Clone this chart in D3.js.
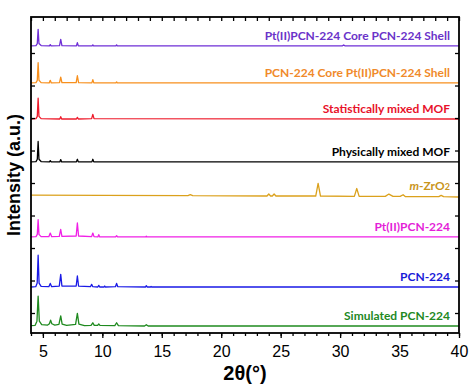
<!DOCTYPE html>
<html>
<head>
<meta charset="utf-8">
<script src="https://cdn.jsdelivr.net/npm/d3@7/dist/d3.min.js"></script>
<style>
  body { margin: 0; background: #fff; }
  svg { display: block; }
</style>
</head>
<body>
<div id="chart"></div>
<script>
// series names, bottom to top
const names = ['Simulated PCN-224', 'PCN-224', 'Pt(II)PCN-224', 'm-ZrO2',
  'Physically mixed MOF', 'Statistically mixed MOF',
  'PCN-224 Core Pt(II)PCN-224 Shell', 'Pt(II)PCN-224 Core PCN-224 Shell'];

// vertical offset of each trace (a.u.)
const offsets = [-0.4, 0.8, 2.34, 3.6, 4.65, 5.97, 7.08, 8.22];

const lineColors = ['#1f8a1f', '#1a1ae6', '#f020e6', '#dba11c', '#000000', '#ee1c2c', '#f7901e', '#6f2fd6'];
const textColors = ['#23891f', '#1a1ad8', '#e41ed8', '#c9951c', '#000000', '#e8112a', '#f08a2a', '#6a33c9'];

// [2theta, intensity]
const simulated = [[4, 0.01], [4.35, 0.02], [4.5, 0.15], [4.6, 0.92], [4.7, 0.15], [4.9, 0.04], [5.4, 0.03],
  [5.55, 0.07], [5.65, 0.18], [5.75, 0.07], [6.0, 0.03], [6.35, 0.05], [6.5, 0.31], [6.62, 0.06], [7.0, 0.02],
  [7.75, 0.05], [7.9, 0.39], [8.03, 0.06], [8.5, 0.01], [9.05, 0.02], [9.2, 0.1], [9.32, 0.02], [9.6, 0.02],
  [9.7, 0.06], [9.8, 0.02], [11.05, 0.01], [11.2, 0.1], [11.35, 0.01], [13.55, 0], [13.7, 0.04], [13.85, 0], [40, 0]];
const pcn = [[4, 0], [4.4, 0.01], [4.52, 0.12], [4.6, 0.98], [4.68, 0.12], [4.85, 0.02], [5.5, 0.01],
  [5.62, 0.11], [5.74, 0.01], [6.38, 0.03], [6.5, 0.39], [6.6, 0.03], [7.8, 0.03], [7.9, 0.34], [8.0, 0.03],
  [9.0, 0.01], [9.1, 0.08], [9.2, 0.01], [9.62, 0], [9.7, 0.05], [9.78, 0], [10.15, 0], [10.2, 0.03], [10.25, 0],
  [11.1, 0.01], [11.2, 0.11], [11.3, 0.01], [13.62, 0], [13.7, 0.04], [13.78, 0], [14.05, 0], [14.1, 0.02], [14.15, 0], [40, 0]];
const ptPcn = [[4, 0], [4.42, 0.01], [4.53, 0.08], [4.6, 0.53], [4.67, 0.08], [4.85, 0.01], [5.5, 0.01],
  [5.62, 0.12], [5.74, 0.01], [6.38, 0.02], [6.5, 0.23], [6.6, 0.02], [7.8, 0.03], [7.9, 0.43], [8.0, 0.03],
  [9.1, 0.01], [9.2, 0.12], [9.3, 0.01], [9.62, 0], [9.7, 0.07], [9.78, 0], [11.12, 0], [11.2, 0.04], [11.28, 0],
  [13.65, 0], [13.7, 0.02], [13.75, 0], [40, 0]];
const zro2 = [[4, 0.03], [10, 0.02], [17.2, 0.01], [17.4, 0.04], [17.6, 0.01], [23.85, 0], [24.0, 0.06],
  [24.15, 0], [24.3, 0], [24.45, 0.06], [24.6, 0], [27.95, 0], [28.15, 0.39], [28.35, 0], [31.2, -0.01],
  [31.4, 0.23], [31.6, -0.01], [33.8, -0.01], [34.1, 0.06], [34.45, -0.01], [35.05, -0.01], [35.3, 0.04],
  [35.5, -0.02], [38.3, -0.02], [38.5, 0.02], [38.7, -0.02], [40, -0.03]];
const physical = [[4, 0], [4.42, 0.01], [4.53, 0.08], [4.6, 0.63], [4.67, 0.08], [4.85, 0.01], [5.55, 0],
  [5.62, 0.04], [5.7, 0], [6.42, 0], [6.5, 0.07], [6.58, 0], [7.82, 0], [7.9, 0.08], [7.98, 0], [9.12, 0],
  [9.2, 0.08], [9.28, 0], [40, 0]];
const statistical = [[4, 0], [4.42, 0.01], [4.53, 0.08], [4.6, 0.64], [4.67, 0.08], [4.85, 0.01],
  [6.42, 0], [6.5, 0.07], [6.58, 0], [7.82, 0], [7.9, 0.05], [7.98, 0], [9.1, 0.01], [9.2, 0.14], [9.3, 0.01], [40, 0]];
const pcnCore = [[4, 0], [4.42, 0.01], [4.53, 0.08], [4.6, 0.62], [4.67, 0.08], [4.85, 0.01], [5.53, 0],
  [5.62, 0.08], [5.71, 0], [6.4, 0.01], [6.5, 0.18], [6.6, 0.01], [7.8, 0.01], [7.9, 0.22], [8.0, 0.01],
  [9.12, 0], [9.2, 0.1], [9.28, 0], [11.14, 0], [11.2, 0.03], [11.26, 0], [40, 0]];
const ptCore = [[4, 0], [4.42, 0.01], [4.53, 0.07], [4.6, 0.51], [4.67, 0.07], [4.85, 0.01], [5.55, 0],
  [5.62, 0.04], [5.69, 0], [6.4, 0.01], [6.5, 0.2], [6.6, 0.01], [7.82, 0], [7.9, 0.1], [7.98, 0],
  [9.14, 0], [9.2, 0.03], [9.26, 0], [11.14, 0], [11.2, 0.03], [11.26, 0], [30.2, 0], [30.3, 0.03], [30.4, 0], [40, 0]];

const series = [simulated, pcn, ptPcn, zro2, physical, statistical, pcnCore, ptCore];

const xTicks = [5, 10, 15, 20, 25, 30, 35, 40];
const yTicks = [0, 1, 2, 3, 4, 5, 6, 7, 8];

const W = 474, H = 388;
const margin = { top: 17, right: 15, bottom: 55, left: 31 };
const width = W - margin.left - margin.right;
const height = H - margin.top - margin.bottom;

const svg = d3.select('#chart').append('svg')
  .attr('width', W)
  .attr('height', H);

const g = svg.append('g')
  .attr('transform', `translate(${margin.left},${margin.top})`);

const x = d3.scaleLinear().domain([4, 40]).range([0, width]);
const y = d3.scaleLinear().domain([-0.615, 9.108]).range([height, 0]);

const line = d3.line()
  .x(d => x(d[0]))
  .y(d => y(d[1]));

// traces
series.forEach((s, i) => {
  g.append('path')
    .datum(s.map(d => [d[0], d[1] + offsets[i]]))
    .attr('fill', 'none')
    .attr('stroke', lineColors[i])
    .attr('stroke-width', 1.3)
    .attr('stroke-linejoin', 'round')
    .attr('d', line);
});

// labels
series.forEach((s, i) => {
  const t = g.append('text')
    .attr('x', width - 9)
    .attr('y', y(offsets[i]) - 6)
    .attr('text-anchor', 'end')
    .attr('fill', textColors[i])
    .style('font-family', 'Lato, sans-serif')
    .style('font-weight', 'bold')
    .style('font-size', '12px');
  if (names[i] === 'm-ZrO2') {
    t.append('tspan').style('font-style', 'italic').text('m');
    t.append('tspan').text('-ZrO');
    t.append('tspan').attr('font-size', '9px').text('2');
  } else {
    t.text(names[i]);
  }
});

// axes
const minor = d3.range(4, 41, 1);

g.append('g')
  .attr('transform', `translate(0,${height})`)
  .call(d3.axisBottom(x).tickValues(minor).tickSize(3).tickFormat(''));
const xAxis = g.append('g')
  .attr('transform', `translate(0,${height})`)
  .call(d3.axisBottom(x).tickValues(xTicks).tickSize(5).tickPadding(8));
xAxis.selectAll('text')
  .style('font-family', '"Liberation Sans", Arial, sans-serif')
  .style('font-size', '16px')
  .attr('fill', '#000');

g.append('g')
  .call(d3.axisTop(x).tickValues(minor).tickSize(-4).tickFormat(''));
g.append('g')
  .call(d3.axisLeft(y).tickValues(yTicks).tickSize(-4).tickFormat(''));
g.append('g')
  .attr('transform', `translate(${width},0)`)
  .call(d3.axisRight(y).tickValues(yTicks).tickSize(-4).tickFormat(''));

g.selectAll('.domain').remove();
g.selectAll('.tick line').attr('stroke', '#000').attr('stroke-width', 1.3);

// frame
g.append('rect')
  .attr('width', width)
  .attr('height', height)
  .attr('fill', 'none')
  .attr('stroke', '#000')
  .attr('stroke-width', 1.8);

// axis titles
svg.append('text')
  .attr('x', margin.left + width / 2)
  .attr('y', 380)
  .attr('text-anchor', 'middle')
  .style('font-family', '"Liberation Sans", Arial, sans-serif')
  .style('font-weight', 'bold')
  .style('font-size', '20px')
  .text('2θ(°)');

svg.append('text')
  .attr('transform', `translate(20,${margin.top + height / 2}) rotate(-90)`)
  .attr('text-anchor', 'middle')
  .style('font-family', '"Liberation Sans", Arial, sans-serif')
  .style('font-weight', 'bold')
  .style('font-size', '18px')
  .text('Intensity (a.u.)');
</script>
</body>
</html>
